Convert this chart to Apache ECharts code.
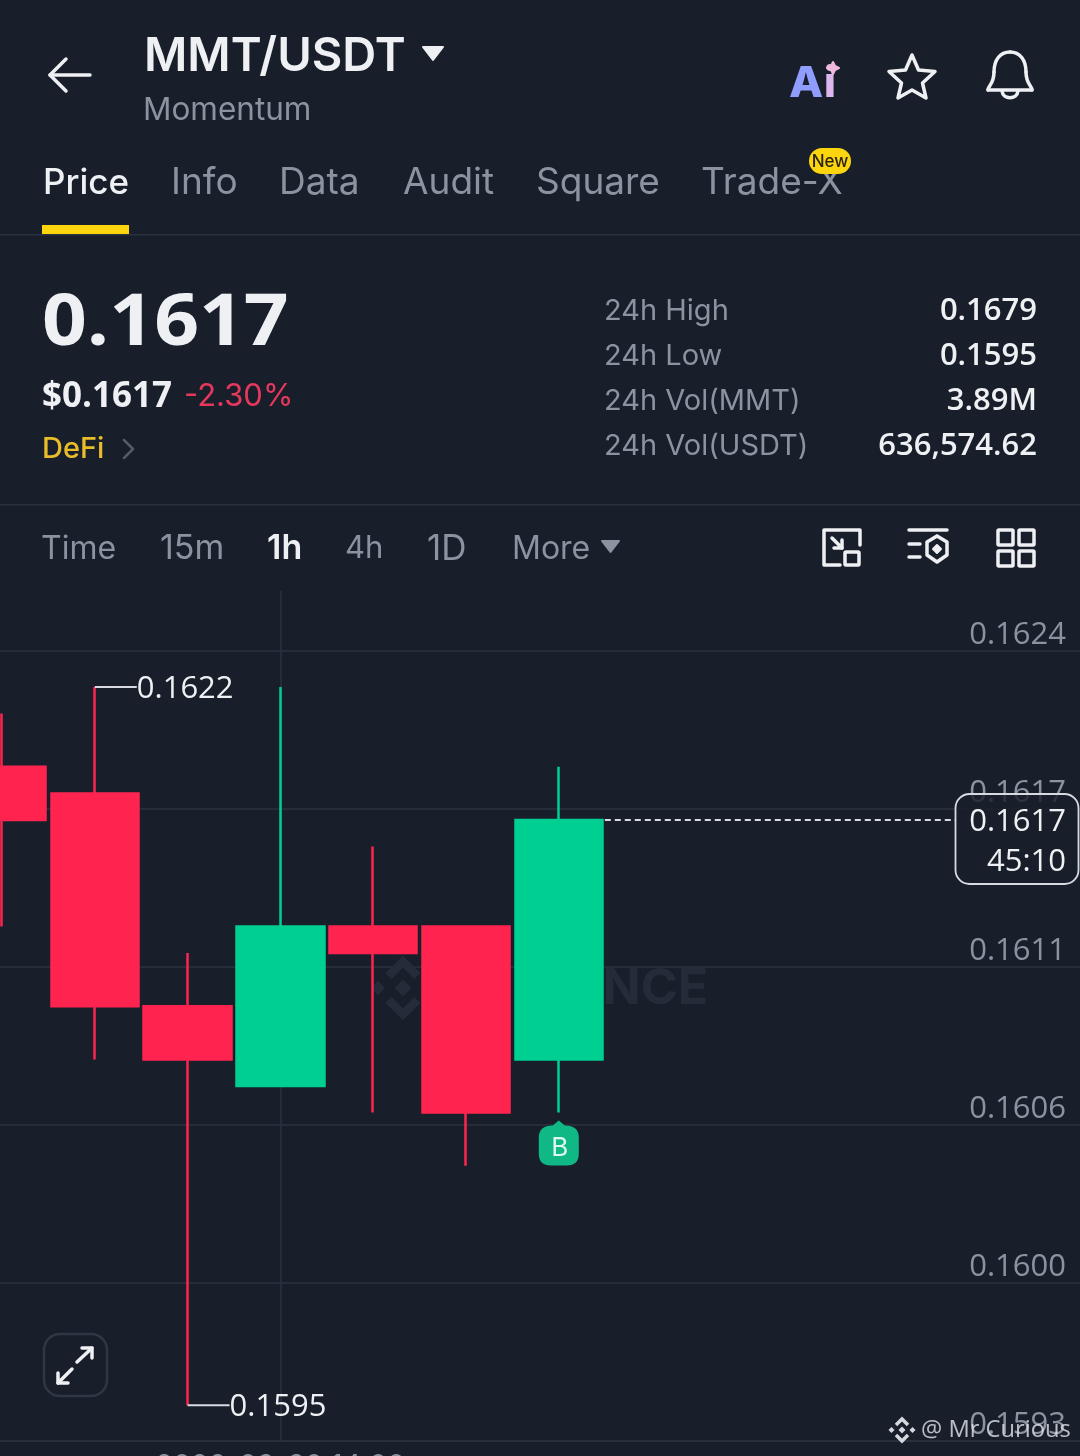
<!DOCTYPE html>
<html><head><meta charset="utf-8">
<style>html,body{margin:0;padding:0;background:#181f2b;overflow:hidden}#c{width:1080px;height:1456px}</style>
<script src="https://cdn.jsdelivr.net/npm/echarts@6/dist/echarts.min.js"></script>
</head><body><div id="c"></div>
<script>
// ---- data ----
const categories = ['11:00','12:00','13:00','2026-03-30 14:00','15:00','16:00','17:00','18:00','19:00','20:00','21:00','22:00','23:00'];
const opens  = [0.1619,0.1618,0.1610,0.1607,0.1613,0.1613,0.1608];
const closes = [0.1617,0.1610,0.1608,0.1613,0.1612,0.1606,0.1617];
const lows   = [0.1613,0.1608,0.1595,0.1607,0.1606,0.1604,0.1606];
const highs  = [0.1621,0.1622,0.1612,0.1622,0.1616,0.1613,0.1619];
const gridValues = [0.162335,0.161741,0.161147,0.160553,0.159959,0.159366];
const tickLabels = ['0.1624','0.1617','0.1611','0.1606','0.1600','0.1593'];
const lastPrice = 0.1617, lastIndex = 6, countdown = '45:10';
const tabs = ['Price','Info','Data','Audit','Square','Trade-X'];
const intervals = ['Time','15m','1h','4h','1D','More'];
const stats = [['24h High','0.1679'],['24h Low','0.1595'],['24h Vol(MMT)','3.89M'],['24h Vol(USDT)','636,574.62']];
const highMark = [1,0.1622,'0.1622'], lowMark = [2,0.1595,'0.1595'], buyMark = [6,0.1606,'B'], crossIndex = 3;

// ---- colours / layout ----
const BG='#181f2b', LINE='#2a3240', GREY='#8b93a1', WHITE='#eef0f3', RED='#ff2450', GREEN='#00cf92', MARK='#252c39';
const FONT='Inter, "Noto Sans", sans-serif', NUM='"Open Sans", "Noto Sans", sans-serif';
const band=92.8, gridLeft=-44.4, gridTop=591, gridBottomY=1441;
const yMax=0.1617+(820-gridTop)/266000, yMin=0.1617-(gridBottomY-820)/266000;

const T=(x,y,text,size,fill,o={})=>({type:'text',z:o.z??20,x,y:y+1.5,scaleX:o.sx||1,style:{text,font:`${o.weight||400} ${size}px ${o.font||FONT}`,fill,align:o.align||'left',verticalAlign:'middle'}});
const R=(x,y,w,h,fill,r=0,stroke,lw)=>({type:'rect',z:20,shape:{x,y,width:w,height:h,r},style:{fill:fill||'none',stroke:stroke||null,lineWidth:lw||0}});
const Raw=(d,fill,stroke,lw,z)=>({type:'polyline',z:z||20,shape:{points:d},style:{fill:fill||'none',stroke:stroke||WHITE,lineWidth:lw||3.5,lineCap:'round',lineJoin:'round'}});
const Poly=(d,fill,z)=>({type:'polygon',z:z||20,shape:{points:d},style:{fill,lineJoin:'round',stroke:fill,lineWidth:2}});
const Bez=(x1,y1,c1x,c1y,c2x,c2y,x2,y2)=>({type:'bezierCurve',z:20,shape:{x1,y1,cpx1:c1x,cpy1:c1y,cpx2:c2x,cpy2:c2y,x2,y2},style:{fill:'none',stroke:WHITE,lineWidth:3.5,lineCap:'round'}});
const Dia=(x,y,r,fill,z)=>({type:'polygon',z,shape:{points:[[x,y-r],[x+r,y],[x,y+r],[x-r,y]]},style:{fill}});
const Logo=(x,y,s,fill,z)=>[
  Dia(x,y,7*s,fill,z),Dia(x-21*s,y,6*s,fill,z),Dia(x+21*s,y,6*s,fill,z),
  {type:'polyline',z,shape:{points:[[x-12*s,y-10*s],[x,y-22*s],[x+12*s,y-10*s]]},style:{fill:'none',stroke:fill,lineWidth:7*s}},
  {type:'polyline',z,shape:{points:[[x-12*s,y+10*s],[x,y+22*s],[x+12*s,y+10*s]]},style:{fill:'none',stroke:fill,lineWidth:7*s}}];

const tabX=[43,171,279,403,536,701];
const intX=[41,160,267,345,427,512], intSize=[32,34,34,31,35,32];
const g=[];
// header
g.push(Raw([[66,59],[50,75],[66,91]]), Raw([[50,75],[90,75]]));
g.push(T(144,55,'MMT/USDT',47,WHITE,{weight:600}));
g.push(Poly([[423,47],[443,47],[433,60]],WHITE));
g.push(T(143,109,'Momentum',31.5,GREY));
// Ai icon
g.push(T(789,83,'A',42,'#8f9dff',{weight:800,sx:1.06}));
g.push(T(824,83,'i',42,'#dcb6ec',{weight:800}));
g.push(Poly([[833,62],[835,66],[839,68],[835,70],[833,74],[831,70],[827,68],[831,66]],'#f0b9dd'));
// star
g.push(Raw([[912,55],[918.5,70],[935,71.5],[922.5,83],[926,98],[912,90],[898,98],[901.5,83],[889,71.5],[905.5,70],[912,55]]));
// bell
g.push(Bez(988,90,988,86,994,84,994,72),Bez(994,72,994,60,1000,52,1010,52),Bez(1010,52,1020,52,1026,60,1026,72),Bez(1026,72,1026,84,1032,86,1032,90));
g.push(Raw([[988,90],[1032,90]]),Bez(1002,91,1003,100,1017,100,1018,91));
// tabs
tabs.forEach((t,i)=>g.push(T(tabX[i],181.5,t,i==0?35:37,i==0?WHITE:GREY,{weight:i==0?500:400})));
g.push(R(42,225,87,9,'#fcd50f'));
g.push(R(0,234,1080,1.5,LINE));
g.push(R(809,148,42,26,'#fcd50f',13));
g.push(T(830,160,'New',17,'#2b2410',{align:'center',weight:500}));
// price block
g.push(T(42,323,'0.1617',72,WHITE,{weight:700,font:NUM,sx:1.09}));
g.push(T(42,396,'$0.1617',35,WHITE,{weight:700,font:NUM}));
g.push(T(184,395,'-2.30%',31,'#e6385c'));
g.push(T(42,448,'DeFi',29,'#e9bd2a',{weight:500}));
g.push(Raw([[124,440],[133,449],[124,458]],null,'#535a68',2.5));
stats.forEach((s,i)=>{const y=309.5+i*45;g.push(T(604,y,s[0],29,GREY));g.push(T(1037,y+.5,s[1],31,WHITE,{align:'right',weight:600,font:NUM}));});
g.push(R(0,504,1080,1.5,LINE));
// interval row
intervals.forEach((t,i)=>g.push(T(intX[i],547.5,t,intSize[i],i==2?WHITE:GREY,{weight:i==2?600:400})));
g.push(Poly([[602,541],[619,541],[610.5,552]],GREY));
// toolbar icons
g.push(Raw([[860,545],[860,530],[824,530],[824,565],[840,565]]));
g.push(Raw([[832,538],[842,548]]),Raw([[842,540],[842,548],[834,548]]));
g.push(R(845,552,14,13,null,1,WHITE,3.5));
g.push(Raw([[909,530],[947,530]]),Raw([[909,544],[920,544]]),Raw([[909,557],[920,557]]));
g.push(Raw([[937,536],[947,542],[947,555],[937,562],[927,555],[927,542],[937,536]]));
g.push(Poly([[937,545],[941,549],[937,553],[933,549]],WHITE));
[[998,530],[1019,530],[998,551],[1019,551]].forEach(p=>g.push(R(p[0],p[1],15,15,null,1,WHITE,3.5)));
// full-screen button
g.push(R(44,1334,63,62,null,16,'#2f3744',2.5));
g.push(Raw([[77,1362],[92,1348]]),Raw([[82,1348],[92,1348],[92,1358]]));
g.push(Raw([[72,1369],[58,1383]]),Raw([[58,1373],[58,1383],[68,1383]]));
// watermarks
g.push({type:'text',z:1,x:708,y:989,style:{text:'BINANCE',font:`700 50px ${FONT}`,fill:MARK,align:'right',verticalAlign:'middle'}});
g.push(...Logo(403,988,1.2,MARK,1));
g.push(...Logo(902,1430,.5,'#d5d8de',30));
g.push({type:'text',z:30,x:921,y:1430,style:{text:'@ Mr Curious',font:`400 23.7px ${NUM}`,fill:'rgba(222,225,230,.82)',align:'left',verticalAlign:'middle'}});

// annotation series drawn from the data through the axes
function leaderItem(params,api){
  const p=api.coord([api.value(0),api.value(1)]), txt=params.dataIndex===0?highMark[2]:lowMark[2];
  const x2=p[0]+42;
  return {type:'group',children:[
    {type:'line',shape:{x1:p[0],y1:p[1],x2,y2:p[1]},style:{stroke:'#d7dae0',lineWidth:2}},
    {type:'text',x:x2,y:p[1]+2,style:{text:txt,font:`400 31px ${NUM}`,fill:WHITE,verticalAlign:'middle',align:'left'}}
  ]};
}
function buyItem(params,api){
  const p=api.coord([api.value(0),api.value(1)]); const x=p[0], y=p[1]+8;
  return {type:'group',children:[
    {type:'path',shape:{pathData:`M${x} ${y} L${x+6} ${y+5} Q${x+20} ${y+5} ${x+20} ${y+17} L${x+20} ${y+33} Q${x+20} ${y+45} ${x+8} ${y+45} L${x-8} ${y+45} Q${x-20} ${y+45} ${x-20} ${y+33} L${x-20} ${y+17} Q${x-20} ${y+5} ${x-6} ${y+5} Z`},style:{fill:'#10b886'}},
    {type:'text',x:x+1,y:y+28,style:{text:buyMark[2],font:`400 26px ${FONT}`,fill:'#dff8ef',align:'center',verticalAlign:'middle'}}
  ]};
}
function lastItem(params,api){
  const p=api.coord([api.value(0),api.value(1)]);
  const y=p[1], x1=p[0]+46;
  return {type:'group',children:[
    {type:'line',shape:{x1,y1:y,x2:955,y2:y},style:{stroke:'#d7dae0',lineWidth:2,lineDash:[6,4]}},
    {type:'rect',shape:{x:955.5,y:y-26,width:123,height:90,r:14},style:{fill:BG,fillOpacity:.82,stroke:'#d7dae0',lineWidth:1.8}},
    {type:'text',x:1066,y:y+2,style:{text:lastPrice.toFixed(4),font:`400 31px ${NUM}`,fill:WHITE,align:'right',verticalAlign:'middle'}},
    {type:'text',x:1066,y:y+42,style:{text:countdown,font:`400 31px ${NUM}`,fill:WHITE,align:'right',verticalAlign:'middle'}}
  ]};
}
const candleData = opens.map((o,i)=>[o,closes[i],lows[i],highs[i]]);

const option={
  backgroundColor:BG, animation:false,
  graphic:{elements:g},
  grid:{left:gridLeft,top:gridTop,width:band*categories.length,height:gridBottomY-gridTop,outerBoundsMode:'none',containLabel:false},
  xAxis:{type:'category',data:categories,boundaryGap:true,
    axisLine:{show:true,lineStyle:{color:LINE,width:1.5}},axisTick:{show:false},splitLine:{show:false},
    axisLabel:{margin:11,fontSize:28.5,color:GREY,fontFamily:FONT,interval:(i)=>i===crossIndex,hideOverlap:false,verticalAlign:'top'}},
  yAxis:{type:'value',position:'right',offset:-96,min:yMin,max:yMax,scale:true,
    axisLine:{show:false},
    axisTick:{show:false,customValues:gridValues},
    splitLine:{show:true,lineStyle:{color:LINE,width:1.5}},
    axisLabel:{customValues:gridValues,inside:true,margin:0,fontSize:31,fontFamily:NUM,color:GREY,verticalAlign:'bottom',lineHeight:32,padding:[0,0,0,0],showMinLabel:true,showMaxLabel:true,
      formatter:(v)=>{let b=0;gridValues.forEach((g,i)=>{if(Math.abs(g-v)<Math.abs(gridValues[b]-v))b=i;});return tickLabels[b];}}},
  series:[
    {type:'candlestick',data:candleData,barWidth:88,clip:true,z:5,
      itemStyle:{color:GREEN,color0:RED,borderColor:GREEN,borderColor0:RED,borderWidth:2.5},
      markLine:{silent:true,symbol:'none',label:{show:false},z:1,lineStyle:{color:LINE,width:1.5,type:'solid'},
        data:[{xAxis:categories[crossIndex]}]}},
    {type:'custom',renderItem:leaderItem,data:[[highMark[0],highMark[1]],[lowMark[0],lowMark[1]]],z:7,clip:false,encode:{x:0,y:1}},
    {type:'custom',renderItem:buyItem,data:[[buyMark[0],buyMark[1]]],z:7,clip:false,encode:{x:0,y:1}},
    {type:'custom',renderItem:lastItem,data:[[lastIndex,lastPrice]],z:8,clip:false,encode:{x:0,y:1}}
  ]
};
const chart=echarts.init(document.getElementById('c'),null,{width:1080,height:1456});
chart.setOption(option);
</script></body></html>
